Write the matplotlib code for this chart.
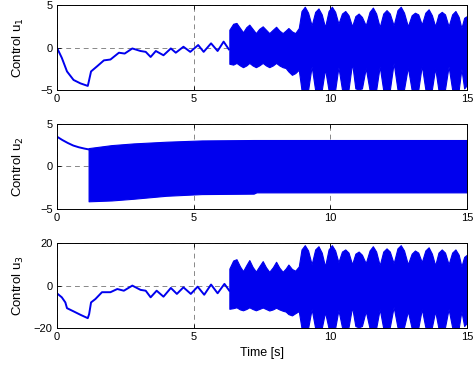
import numpy as np
import matplotlib
matplotlib.use('Agg')
import matplotlib.pyplot as plt

plt.rcParams['font.family'] = ['Liberation Sans', 'DejaVu Sans']

# ---- smooth (pre-oscillation) parts ----
u1_t = [0, 0.18, 0.37, 0.61, 0.86, 1.13, 1.16, 1.25, 1.47, 1.72, 1.96, 2.27, 2.48, 2.76,
        3.06, 3.25, 3.43, 3.62, 3.9, 4.17, 4.35, 4.63, 4.88, 5.17, 5.37, 5.64, 5.88, 6.1, 6.29]
u1_v = [0, -1.2, -2.8, -3.8, -4.2, -4.5, -4.1, -2.8, -2.2, -1.5, -1.4, -0.6, -0.7, -0.1,
        -0.4, -0.5, -1.1, -0.4, -0.9, -0.1, -0.6, 0.1, -0.5, 0.3, -0.5, 0.5, -0.4, 0.7, -0.2]

u3_t = [0, 0.18, 0.31, 0.37, 0.61, 0.86, 1.13, 1.18, 1.25, 1.41, 1.65, 1.96, 2.21, 2.45,
        2.76, 3.06, 3.25, 3.43, 3.65, 3.9, 4.17, 4.39, 4.63, 4.9, 5.15, 5.39, 5.64, 5.88, 6.13, 6.31]
u3_v = [-3.6, -5.5, -7.9, -10.6, -12.1, -13.7, -15.3, -13.4, -7.9, -6.3, -3.1, -3.1, -1.6, -2.4,
        0, -2.0, -2.4, -5.5, -2.4, -5.2, -1.1, -3.9, -0.8, -3.9, -0.5, -4.3, 0.5, -3.6, 0.8, -2.4]

u2_t = [0, 0.2, 0.4, 0.6, 0.8, 1.0, 1.16]
u2_v = [3.5, 3.1, 2.75, 2.45, 2.25, 2.1, 2.0]

# ---- envelopes of the fast chattering parts ----
band_t = [6.31, 6.45, 6.57, 6.70, 6.81, 6.93, 7.04, 7.16, 7.28, 7.40, 7.53, 7.65, 7.77, 7.90,
          8.02, 8.14, 8.26, 8.37, 8.47, 8.60, 8.72,
          8.85, 8.95, 9.07, 9.19, 9.32, 9.45, 9.57, 9.69, 9.81, 9.94, 10.06, 10.18,
          10.30, 10.43, 10.55, 10.67, 10.80, 10.92, 11.04, 11.16, 11.30, 11.44, 11.56, 11.68,
          11.81, 11.94, 12.06, 12.18, 12.32, 12.46, 12.58, 12.70, 12.84, 12.98, 13.10, 13.22,
          13.35, 13.48, 13.60, 13.72, 13.84, 13.96, 14.08, 14.20, 14.33, 14.46, 14.58, 14.70,
          14.80, 14.90, 15.0]

u1_hi = [2.1, 2.8, 2.9, 2.3, 1.8, 2.4, 2.7, 2.2, 1.7, 2.2, 2.5, 2.1, 1.7, 2.1,
         2.45, 2.0, 1.7, 2.0, 2.3, 1.9, 1.7,
         2.3, 4.3, 4.8, 4.1, 2.6, 4.2, 4.6, 3.9, 2.4, 4.3, 4.8, 4.2,
         2.8, 4.0, 4.3, 3.8, 2.5, 3.7, 4.0, 3.6, 2.6, 4.2, 4.7, 4.0,
         2.4, 4.0, 4.4, 4.0, 2.6, 4.4, 4.8, 4.1, 2.5, 3.8, 4.1, 3.9,
         2.7, 4.1, 4.5, 3.8, 2.5, 3.9, 4.2, 3.9, 2.5, 3.9, 4.3, 3.6,
         2.3, 3.5, 3.7]
u1_lo = [-1.9, -2.0, -1.8, -2.1, -2.3, -2.1, -1.8, -2.1, -2.3, -2.1, -1.8, -2.1, -2.3, -2.1,
         -1.8, -2.1, -2.3, -2.4, -2.8, -3.2, -3.0,
         -2.6, -5.0, -5.0, -5.0, -2.2, -5.0, -5.0, -5.0, -2.5, -5.0, -5.0, -5.0,
         -2.3, -4.9, -5.0, -4.9, -1.8, -4.8, -4.9, -4.8, -2.4, -5.0, -5.0, -5.0,
         -2.2, -5.0, -5.0, -5.0, -1.8, -4.9, -5.0, -4.9, -2.3, -5.0, -5.0, -5.0,
         -2.1, -4.9, -5.0, -4.9, -2.4, -5.0, -5.0, -4.9, -2.2, -4.9, -5.0, -5.0,
         -2.5, -4.8, -4.4]

u3_hi = [8.0, 11.8, 12.4, 9.0, 6.8, 9.6, 12.0, 8.8, 6.6, 9.0, 11.5, 8.6, 6.5, 8.6,
         11.2, 8.4, 6.5, 8.0, 9.9, 7.8, 7.0,
         9.0, 17.0, 19.0, 16.5, 10.0, 17.0, 18.5, 15.5, 9.0, 17.0, 19.0, 16.5,
         11.0, 16.0, 17.0, 15.5, 10.0, 15.0, 16.0, 14.5, 10.5, 16.5, 18.5, 16.0,
         9.5, 16.0, 17.5, 16.0, 10.5, 17.5, 19.0, 16.5, 10.0, 15.0, 16.5, 15.5,
         11.0, 16.5, 18.0, 15.0, 9.5, 15.5, 17.0, 15.5, 10.0, 15.5, 17.0, 14.5,
         9.0, 13.5, 14.5]
u3_lo = [-10.9, -10.6, -10.2, -11.2, -11.6, -11.0, -10.2, -11.0, -11.6, -11.0, -10.3, -11.0, -11.7, -11.2,
         -10.4, -11.2, -11.8, -12.2, -13.4, -14.0, -13.0,
         -12.0, -20.0, -20.0, -20.0, -11.0, -20.0, -20.0, -20.0, -12.5, -20.0, -20.0, -20.0,
         -11.5, -19.5, -20.0, -19.5, -10.0, -19.0, -19.6, -19.0, -12.0, -20.0, -20.0, -20.0,
         -11.0, -20.0, -20.0, -19.5, -10.0, -19.5, -20.0, -19.5, -12.0, -20.0, -20.0, -20.0,
         -11.0, -19.5, -20.0, -19.5, -12.0, -20.0, -20.0, -19.5, -11.0, -19.5, -20.0, -20.0,
         -12.0, -19.0, -17.5]

u2_band_t = [1.16, 2.0, 2.8, 4.0, 5.3, 7.2, 7.3, 15.0]
u2_hi = [2.15, 2.5, 2.7, 2.9, 3.05, 3.1, 3.1, 3.1]
u2_lo = [-4.1, -4.0, -3.8, -3.45, -3.25, -3.2, -3.05, -3.05]

blue = '#0000ee'

fig = plt.figure(figsize=(4.74, 3.87), dpi=100)
rows = [
    (0.767, u1_t, u1_v, band_t, u1_hi, u1_lo, (-5, 5), [-5, 0, 5], 'Control u$_1$'),
    (0.460, u2_t, u2_v, u2_band_t, u2_hi, u2_lo, (-5, 5), [-5, 0, 5], 'Control u$_2$'),
    (0.152, u3_t, u3_v, band_t, u3_hi, u3_lo, (-20, 20), [-20, 0, 20], 'Control u$_3$'),
]

axes = []
for bottom, t, v, bt, hi, lo, ylim, yt, lab in rows:
    ax = fig.add_axes([0.120, bottom, 0.865, 0.220])
    ax.plot(t, v, color=blue, lw=1.4)
    ax.fill_between(bt, lo, hi, color=blue, lw=0.8, edgecolor=blue)
    ax.set_xlim(0, 15)
    ax.set_ylim(*ylim)
    ax.set_xticks([0, 5, 10, 15])
    ax.set_yticks(yt)
    ax.set_axisbelow(True)
    ax.grid(True, ls=(0, (5, 4)), color='#888888', lw=0.7)
    ax.tick_params(direction='in', top=True, right=True, length=3, width=0.6,
                   labelsize=8, pad=3)
    for s in ax.spines.values():
        s.set_linewidth(0.7)
    ax.set_ylabel(lab, fontsize=9.5)
    ax.yaxis.set_label_coords(-0.075, 0.5)
    axes.append(ax)

axes[-1].set_xlabel('Time [s]', fontsize=9, labelpad=3)

fig.savefig('out.png', dpi=100)
